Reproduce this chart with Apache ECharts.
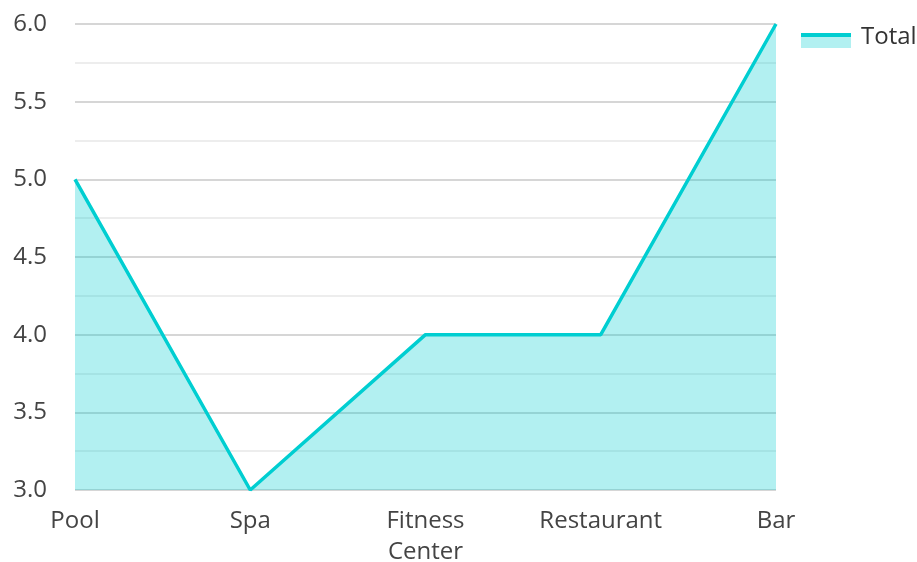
<!DOCTYPE html>
<html>
<head>
<meta charset="utf-8">
<script src="https://cdn.jsdelivr.net/npm/echarts@6/dist/echarts.min.js"></script>
<style>
html,body{margin:0;padding:0;background:#fff;}
#main{width:917px;height:562px;}
</style>
</head>
<body>
<div id="main"></div>
<script>
var categories = ['Pool', 'Spa', 'Fitness\nCenter', 'Restaurant', 'Bar'];
var totalValues = [5, 3, 4, 4, 6];
var seriesName = 'Total';

var lineColor = '#00CED1';
var fontFamily = '"Open Sans", sans-serif';

var chart = echarts.init(document.getElementById('main'));
chart.setOption({
    animation: false,
    grid: {left: 75, right: 141, top: 24, bottom: 72, containLabel: false, outerBoundsMode: 'none'},
    legend: {
        data: [seriesName],
        left: 801, top: 20,
        itemWidth: 50, itemHeight: 15, itemGap: 10,
        icon: 'rect',
        itemStyle: {color: 'rgba(0,0,0,0)'},
        textStyle: {fontFamily: fontFamily, fontSize: 24, color: '#333'}
    },
    // legend swatch: area block with the line on top, like the source
    graphic: [{
        type: 'rect', left: 801, top: 33,
        shape: {width: 50, height: 15},
        style: {fill: 'rgba(0,206,209,0.3)'},
        z: 100
    }, {
        type: 'rect', left: 801, top: 33,
        shape: {width: 50, height: 4},
        style: {fill: lineColor},
        z: 101
    }],
    xAxis: {
        type: 'category',
        data: categories,
        boundaryGap: false,
        axisLine: {show: false},
        axisTick: {show: false},
        axisLabel: {fontFamily: fontFamily, fontSize: 24, color: '#444', margin: 16, lineHeight: 31}
    },
    yAxis: {
        type: 'value',
        min: 3, max: 6, interval: 0.5,
        axisLine: {show: false},
        axisTick: {show: false},
        axisLabel: {fontFamily: fontFamily, fontSize: 24, color: '#444', margin: 28,
            formatter: function (v) { return v.toFixed(1); }},
        splitLine: {lineStyle: {color: '#c8c8c8', width: 1.5}},
        minorTick: {show: false, splitNumber: 2},
        minorSplitLine: {show: true, lineStyle: {color: '#e8e8e8', width: 1.5}}
    },
    series: [{
        name: seriesName,
        type: 'line',
        data: totalValues,
        symbol: 'none',
        lineStyle: {color: lineColor, width: 3.5},
        itemStyle: {color: lineColor},
        areaStyle: {color: lineColor, opacity: 0.3, origin: 'start'}
    }]
});
</script>
</body>
</html>
